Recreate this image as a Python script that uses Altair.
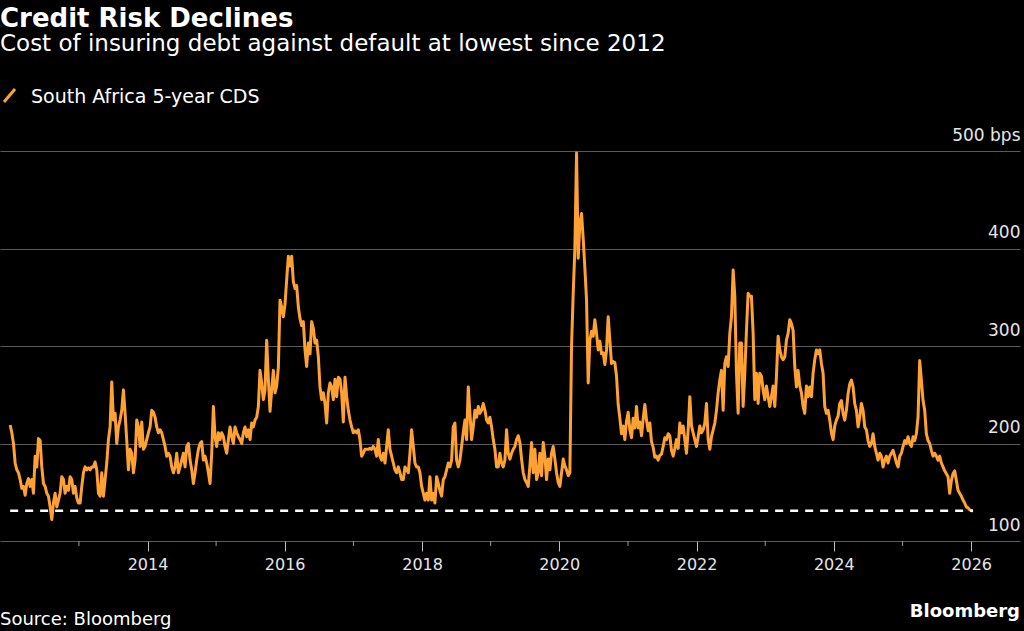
import altair as alt
import pandas as pd

# ---- text ---------------------------------------------------------------
TITLE = "Credit Risk Declines"
SUBTITLE = "Cost of insuring debt against default at lowest since 2012"
SERIES_NAME = "South Africa 5-year CDS"
SOURCE = "Source: Bloomberg"
BRAND = "Bloomberg"

# ---- data: South Africa 5-year CDS spread (bps), evenly spaced samples ---
FIRST_DATE = "2012-01-01"
LAST_DATE = "2026-01-11"

cds_2012_2014 = [
    219, 211, 200, 180, 173, 170, 163, 154, 156, 147,
    159, 164, 156, 163, 149, 187, 176, 205, 203, 176,
    159, 156, 149, 146, 135, 122, 139, 149, 135, 142,
    149, 166, 163, 149, 156, 152, 166, 163, 149, 156,
    144, 139, 139, 156, 170, 176, 173, 175, 173, 176,
    176, 181, 173, 149, 146, 170, 146, 163, 180, 204,
    217, 263, 224, 231, 200, 217, 224, 234, 255, 231,
    203, 173, 194, 190, 170, 183, 224, 217, 197, 222,
    194, 197, 204, 211, 217, 234, 232, 227, 217, 211,
    214, 211, 204, 197, 187, 190,
]
cds_2014_2016 = [
    187, 176, 170, 176, 190, 170, 176, 183, 190, 176,
    197, 200, 183, 173, 159, 170, 183, 194, 200, 202,
    183, 187, 180, 170, 159, 190, 238, 207, 197, 211,
    204, 211, 207, 197, 190, 204, 217, 207, 200, 217,
    211, 207, 204, 200, 211, 217, 207, 214, 204, 221,
    217, 224, 227, 238, 275, 262, 245, 255, 306, 266,
    233, 255, 275, 252, 259, 278, 347, 340, 330, 343,
    368, 392, 382, 392, 366, 359, 362, 340, 328, 321,
    325, 296, 279, 303, 292, 325, 318, 303, 306, 289,
    258, 245, 252, 241, 221, 252, 262, 258, 245, 266,
    248, 268,
]
cds_2016_2019 = [
    266, 252, 222, 268, 248, 234, 224, 217, 211, 213,
    211, 214, 204, 187, 190, 194, 194, 194, 195, 194,
    197, 194, 187, 204, 187, 183, 190, 180, 197, 214,
    194, 187, 180, 173, 170, 176, 170, 163, 163, 176,
    173, 170, 190, 214, 197, 180, 176, 176, 170, 156,
    149, 142, 149, 142, 166, 142, 149, 139, 166, 159,
    152, 146, 163, 166, 173, 180, 176, 183, 217, 221,
    183, 176, 183, 197, 211, 224, 204, 258, 231, 204,
    217, 234, 227, 238, 231, 234, 241, 234, 224, 221,
    227, 217, 204, 194, 176, 176, 190, 180, 176, 183,
    214, 190,
]
cds_2019_2021 = [
    184, 190, 194, 197, 204, 208, 201, 184, 170, 163,
    160, 156, 177, 201, 170, 194, 163, 170, 190, 167,
    201, 187, 163, 184, 173, 190, 197, 184, 170, 160,
    156, 170, 184, 177, 173, 167, 170, 300, 354, 400,
    498, 390, 426, 436, 410, 380, 347, 262, 306, 315,
    310, 327, 313, 296, 305, 292, 293, 281, 296, 330,
    306, 282, 284, 283, 269, 240, 226, 210, 218, 204,
    223, 232, 214, 206, 226, 216, 238, 216, 222, 208,
    225, 240, 224, 213, 221, 202, 196, 186, 187, 183,
    188, 189, 197, 206, 204, 210, 208, 193, 187, 195,
    204, 195,
]
cds_2021_2024 = [
    221, 211, 218, 204, 190, 214, 248, 218, 211, 204,
    197, 207, 218, 211, 214, 221, 241, 204, 194, 207,
    214, 221, 234, 252, 265, 275, 234, 282, 289, 279,
    313, 330, 378, 351, 272, 231, 303, 303, 238, 272,
    316, 354, 351, 351, 313, 245, 272, 241, 272, 269,
    255, 245, 259, 248, 238, 248, 259, 238, 269, 310,
    296, 289, 286, 289, 306, 313, 327, 323, 316, 279,
    258, 275, 259, 252, 238, 231, 259, 248, 258, 248,
    272, 286, 296, 292, 296, 282, 272, 238, 231, 234,
    224, 211, 204, 218, 224, 228,
]
cds_2024_2026 = [
    241, 244, 231, 224, 234, 251, 261, 265, 258, 241,
    234, 217, 227, 241, 234, 217, 214, 203, 197, 200,
    210, 197, 190, 183, 190, 187, 176, 183, 187, 180,
    187, 190, 193, 187, 180, 176, 187, 190, 197, 203,
    200, 207, 200, 197, 207, 203, 210, 227, 285, 265,
    244, 234, 210, 203, 200, 193, 187, 190, 187, 183,
    187, 180, 176, 172, 169, 166, 149, 162, 169, 172,
    162, 152, 149, 146, 142, 139, 135, 134, 132, 131,
    131,
]

y_ticks = [100, 200, 300, 400, 500]
major_years = [2014, 2016, 2018, 2020, 2022, 2024, 2026]
minor_years = [2013, 2015, 2017, 2019, 2021, 2023, 2025]

# ---- frames ---------------------------------------------------------------
spread = (cds_2012_2014 + cds_2014_2016 + cds_2016_2019
          + cds_2019_2021 + cds_2021_2024 + cds_2024_2026)
dates = pd.date_range(FIRST_DATE, LAST_DATE, periods=len(spread))
df = pd.DataFrame({"date": dates, "bps": spread})

# reference line at the latest reading, across the whole series
low_df = pd.DataFrame({"start": [dates[0]], "end": [dates[-1]], "level": [spread[-1]]})
minor_df = pd.DataFrame({"date": [pd.Timestamp(year=y, month=1, day=1) for y in minor_years]})

# ---- style ----------------------------------------------------------------
FONT = "DejaVu Sans"
ORANGE = "#FFA133"
WHITE = "#FFFFFF"
LABEL = "#E6E6E6"
GRID = "#5A5A5A"
W, H = 1020, 390

x_scale = alt.Scale(domain=[alt.DateTime(year=2011, month=11, date=8),
                            alt.DateTime(year=2026, month=9, date=18)])
y_scale = alt.Scale(domain=[100, 500], nice=False, zero=False)

x_axis = alt.Axis(
    values=[alt.DateTime(year=y, month=1, date=1) for y in major_years],
    format="%Y", title=None, domain=False, grid=False,
    ticks=True, tickSize=10, tickColor="#BDBDBD", tickWidth=1,
    labelColor=LABEL, labelFont=FONT, labelFontSize=16, labelPadding=5,
    labelFlush=False, labelOverlap=False,
)
y_axis = alt.Axis(
    orient="right", values=y_ticks, title=None, domain=False, ticks=False,
    grid=True, gridColor=GRID, gridWidth=1,
    labelColor=LABEL, labelFont=FONT, labelFontSize=17,
    labelAlign="right", labelBaseline="alphabetic", labelPadding=0, labelOffset=-11,
    labelFlush=False, labelOverlap=False,
    labelExpr="datum.value == 500 ? datum.label + ' bps' : datum.label",
)

line = alt.Chart(df).mark_line(color=ORANGE, strokeWidth=3, strokeJoin="round").encode(
    x=alt.X("date:T", scale=x_scale, axis=x_axis),
    y=alt.Y("bps:Q", scale=y_scale, axis=y_axis),
)

low_line = alt.Chart(low_df).mark_rule(color=WHITE, strokeWidth=2.5, strokeDash=[8, 7]).encode(
    x=alt.X("start:T", scale=x_scale),
    x2="end:T",
    y=alt.Y("level:Q", scale=y_scale),
)

minor_ticks = alt.Chart(minor_df).mark_rule(color="#9A9A9A", strokeWidth=1).encode(
    x=alt.X("date:T", scale=x_scale),
    y=alt.value(H),
    y2=alt.value(H + 5),
)


def text_layer(text, x, y, size, weight="normal", align="left"):
    return alt.Chart(pd.DataFrame({"t": [text]})).mark_text(
        align=align, baseline="alphabetic", font=FONT, fontSize=size,
        fontWeight=weight, color=WHITE,
    ).encode(x=alt.value(x), y=alt.value(y), text="t:N")


legend_swatch = alt.Chart(pd.DataFrame({"k": [SERIES_NAME]})).mark_rule(
    color=ORANGE, strokeWidth=3, strokeCap="butt"
).encode(x=alt.value(4), x2=alt.value(15), y=alt.value(-49), y2=alt.value(-62))

chart = alt.layer(
    line,
    low_line,
    minor_ticks,
    legend_swatch,
    text_layer(TITLE, 0, -124, 26, "bold"),
    text_layer(SUBTITLE, 0, -100, 23),
    text_layer(SERIES_NAME, 31, -48, 19),
    text_layer(SOURCE, 0, 474, 18),
    text_layer(BRAND, W, 466, 18, "bold", "right"),
).properties(
    width=W,
    height=H,
    autosize=alt.AutoSizeParams(type="none"),
    padding={"left": 0, "top": 151, "right": 4, "bottom": 90},
).configure(
    background="#000000",
).configure_view(
    stroke=None,
)

chart.save("out.html", embed_options={"renderer": "svg", "actions": False})
